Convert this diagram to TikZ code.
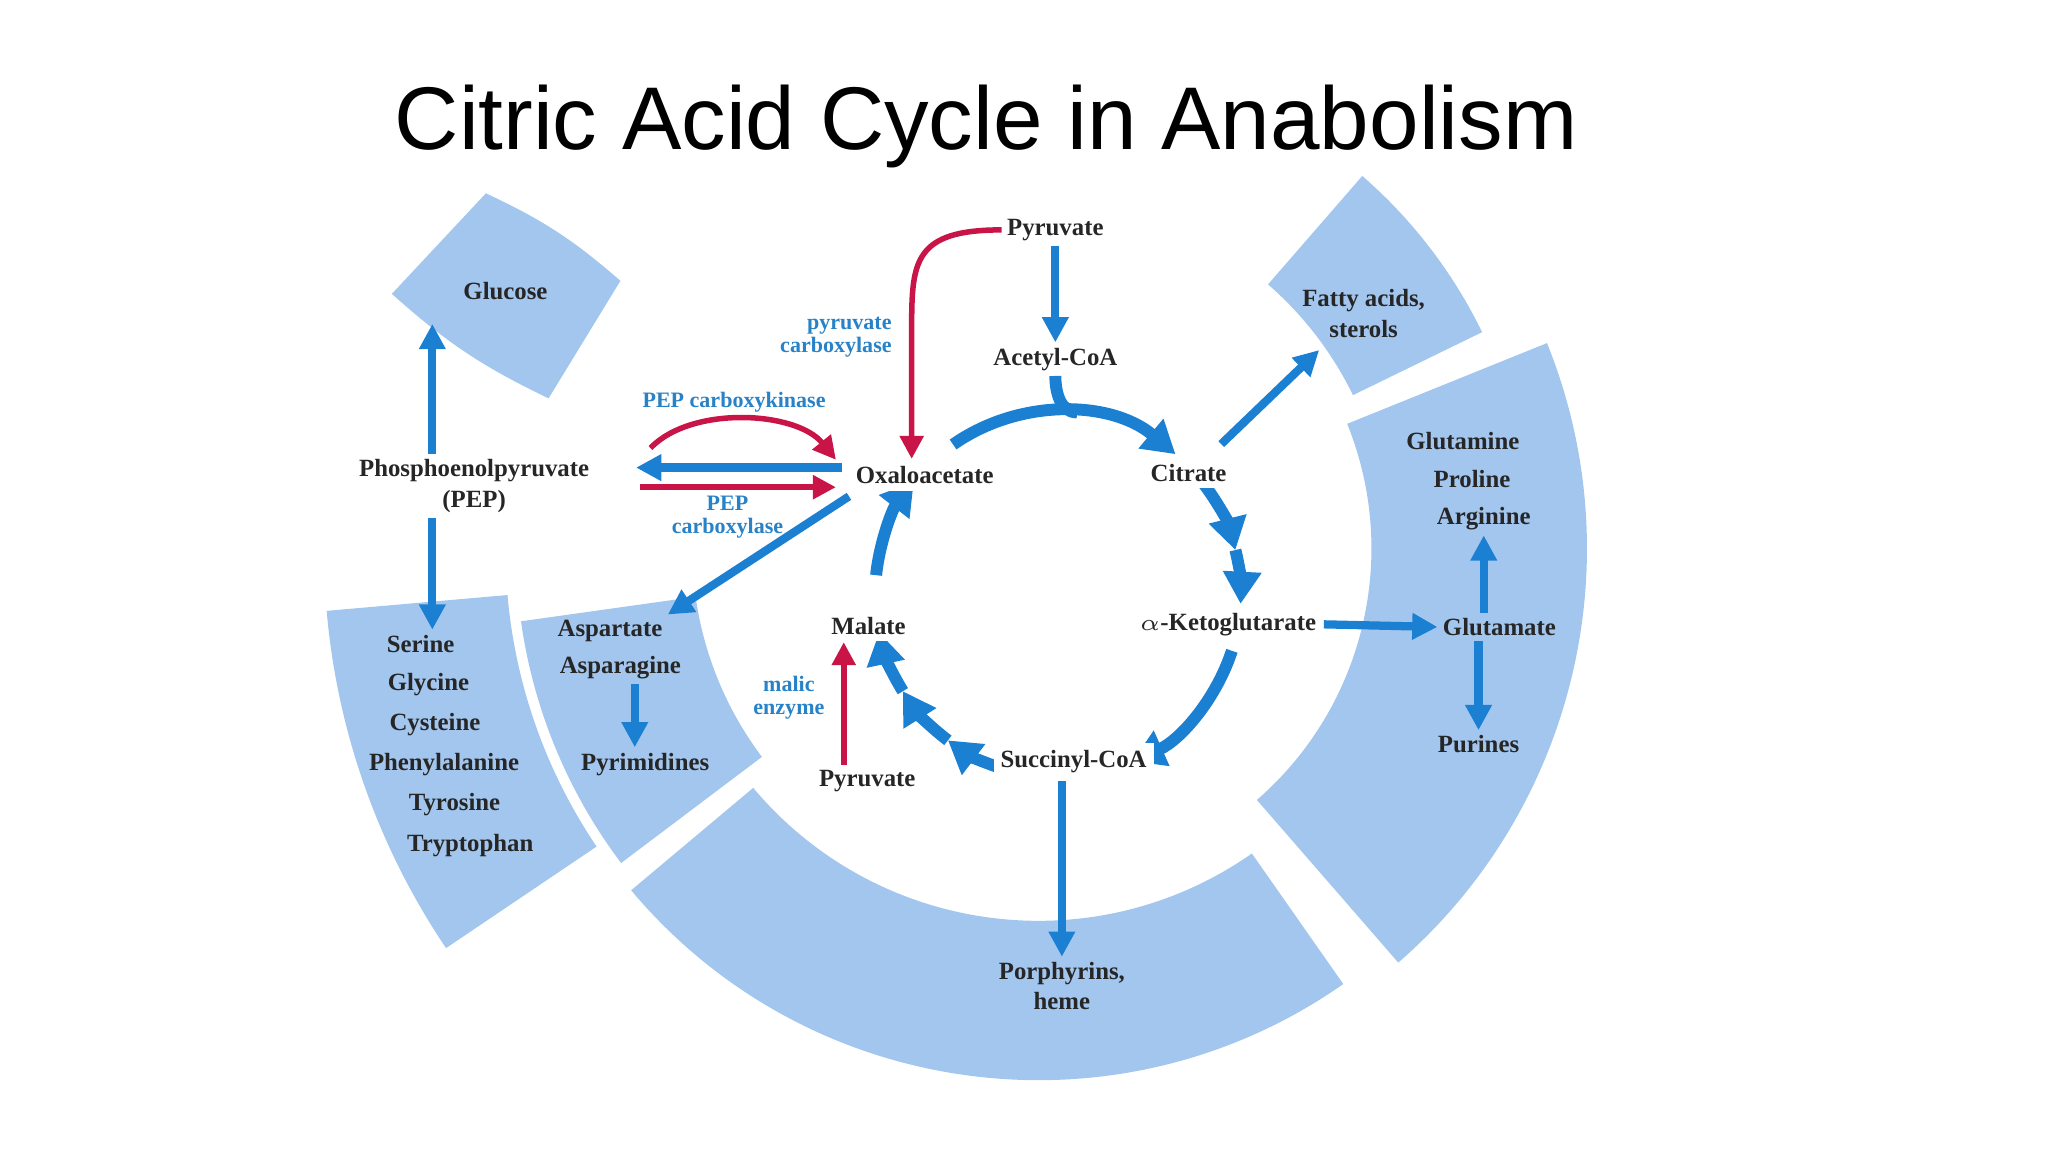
\documentclass[tikz,border=0pt]{standalone}
\usepackage{fontspec}
\setmainfont{Liberation Serif}
\newfontfamily\titlefont{Liberation Sans}
\usetikzlibrary{arrows.meta,calc}
\definecolor{ringblue}{RGB}{163,198,238}
\definecolor{arrblue}{RGB}{28,128,210}
\definecolor{txtblue}{RGB}{40,130,200}
\definecolor{myred}{RGB}{200,20,70}
\begin{document}
\begin{tikzpicture}[x=0.1mm,y=-0.1mm,
  lab/.style={font=\bfseries\fontsize{5.4}{6.6}\selectfont,text=black!85,align=center,inner sep=1pt},
  enz/.style={font=\bfseries\fontsize{4.8}{5}\selectfont,align=center,text=txtblue,inner sep=1pt},
  cyc/.style={lab,fill=white,inner sep=1.5pt},
  barr/.style={arrblue,line width=1.8pt,-{Triangle[length=5.5pt,width=5.5pt]}},
  carr/.style={arrblue,line width=2.6pt,-{Triangle[length=7pt,width=8pt]}},
  rarr/.style={myred,line width=1.2pt,-{Triangle[length=5pt,width=5pt]}}]
\useasboundingbox (0,0) rectangle (1568,882);
\coordinate (C) at (795,420);
\newcommand{\sector}[4]{\fill[ringblue] ($(C)+(#1:#3)$) arc[start angle=#1,end angle=#2,radius=#3] -- ($(C)+(#2:#4)$) arc[start angle=#2,end angle=#1,radius=#4] -- cycle;}
\sector{55}{140}{285}{407}
\sector{-22}{49}{255}{420}
\sector{-49}{-26}{268}{378}
\sector{146}{175}{408}{547}
\sector{143}{172}{265}{400}
\fill[ringblue] (300,225) -- (372,148) to[bend left=8] (475,215) -- (420,305) to[bend left=8] cycle;
\node (title) at (755,97) {\titlefont\fontsize{19.4}{22}\selectfont Citric Acid Cycle in Anabolism};
% cycle
\coordinate (O) at (810,455);
\draw[carr] ($(O)+(-125:140)$) arc[start angle=-125,end angle=-50,radius=140];
\draw[carr] ($(O)+(-38:140)$) arc[start angle=-38,end angle=-14,radius=140];
\draw[carr] ($(O)+(-14:140)$) arc[start angle=-14,end angle=3,radius=140];
\draw[carr] ($(O)+(18:140)$) arc[start angle=18,end angle=66,radius=140];
\draw[carr] ($(O)+(106:140)$) arc[start angle=106,end angle=127,radius=140];
\draw[carr] ($(O)+(127:140)$) arc[start angle=127,end angle=148,radius=140];
\draw[carr] ($(O)+(148:140)$) arc[start angle=148,end angle=168,radius=140];
\draw[carr] ($(O)+(186:140)$) arc[start angle=186,end angle=218,radius=140];
% nodes
\node[lab] (pyr1) at (808,176) {Pyruvate};
\node[lab] (acoa) at (808,275) {Acetyl-CoA};
\node[enz,align=right] (pc) at (640,258) {pyruvate\\carboxylase};
\node[enz] (pepck) at (562,308) {PEP carboxykinase};
\node[lab] (pep) at (363,372) {Phosphoenolpyruvate\\(PEP)};
\node[cyc] (oaa) at (708,364) {Oxaloacetate};
\node[enz] (pepc) at (557,396) {PEP\\carboxylase};
\node[cyc] (cit) at (910,362) {Citrate};
\node[cyc] (akg) at (940,478) {$\alpha$-Ketoglutarate};
\node[lab] (glu) at (1148,480) {Glutamate};
\node[lab] (gln) at (1120,338) {Glutamine};
\node[lab] (pro) at (1127,367) {Proline};
\node[lab] (arg) at (1136,397) {Arginine};
\node[lab] (pur) at (1132,570) {Purines};
\node[lab] (fa) at (1044,240) {Fatty acids,\\sterols};
\node[lab] (gluc) at (387,223) {Glucose};
\node[cyc] (mal) at (665,479) {Malate};
\node[enz] (malic) at (604,534) {malic\\enzyme};
\node[lab] (pyr2) at (664,598) {Pyruvate};
\node[cyc] (succ) at (822,583) {Succinyl-CoA};
\node[lab] (porph) at (813,755) {Porphyrins,\\heme};
\node[lab] (asp) at (467,483) {Aspartate};
\node[lab] (asn) at (475,511) {Asparagine};
\node[lab] (pyrim) at (494,585) {Pyrimidines};
\node[lab] (ser) at (322,493) {Serine};
\node[lab] (gly) at (328,524) {Glycine};
\node[lab] (cys) at (333,555) {Cysteine};
\node[lab] (phe) at (340,585) {Phenylalanine};
\node[lab] (tyr) at (348,616) {Tyrosine};
\node[lab] (trp) at (360,647) {Tryptophan};
\coordinate (faend) at (1010,268);
% connectors
\draw[barr] (pyr1.south) -- (acoa.north);
\draw[arrblue,line width=2.6pt] (acoa.south) to[out=-90,in=180] ($(O)+(-84:140)$);
\draw[rarr] (pyr1.west) .. controls (700,176) and (698,200) .. (698,250) -- (oaa.north -| 698,0);
\draw[rarr] (498,343) .. controls (530,310) and (610,315) .. (640,352);
\draw[barr] (645,358) -- (487,358);
\draw[rarr] (490,373) -- (640,373);
\draw[barr] (650,380) -- (asp.north east);
\draw[barr] (pep.north -| 331,0) -- (331,248);
\draw[barr] (pep.south -| 331,0) -- (ser.north -| 331,0);
\draw[barr] (935,340) -- (faend);
\draw[barr] (akg.east) -- (glu.west);
\draw[barr] (glu.north -| arg) -- (arg.south);
\draw[barr] (glu.south -| pur) -- (pur.north);
\draw[barr] (asn.south -| 486,0) -- (pyrim.north -| 486,0);
\draw[barr] (succ.south -| porph) -- (porph.north);
\draw[rarr] (pyr2.north -| 646,0) -- (mal.south -| 646,0);
\end{tikzpicture}
\end{document}
